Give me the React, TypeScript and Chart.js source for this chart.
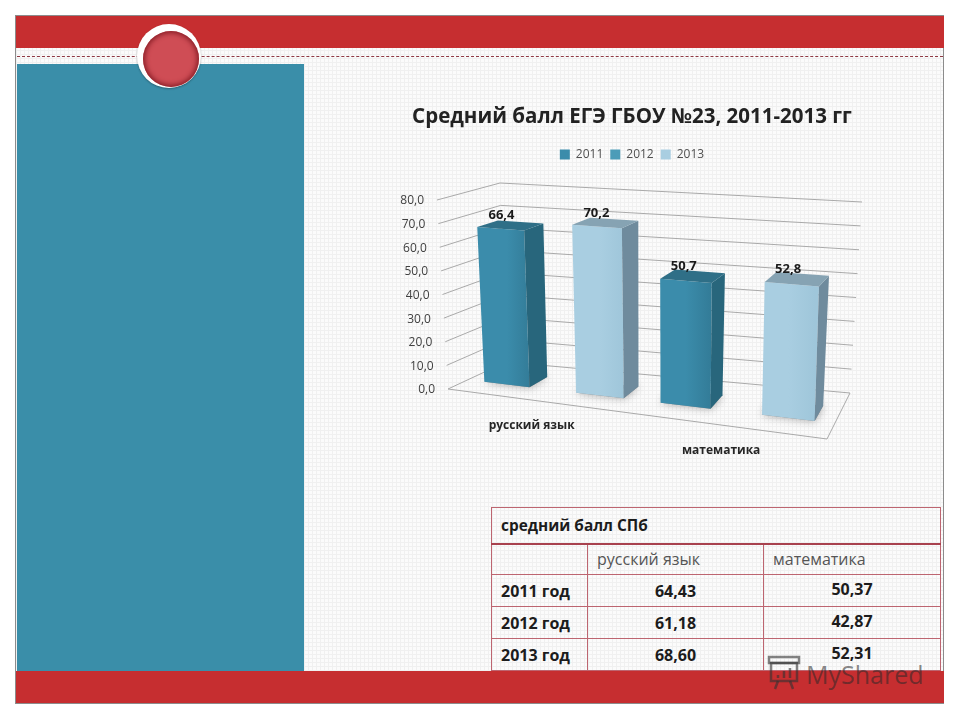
import { useEffect, useRef } from 'react'
import { Chart, registerables } from 'chart.js'

Chart.register(...registerables)

const categories = ['русский язык', 'математика']
const years = ['2011', '2012', '2013']
const values2011 = [66.4, 50.7]
const values2012 = [null, null]
const values2013 = [70.2, 52.8]

const tableHead = ['русский язык', 'математика']
const tableRows = ['2011 год', '2012 год', '2013 год']
const spbRussian = ['64,43', '61,18', '68,60']
const spbMath = ['50,37', '42,87', '52,31']

const CANVAS_X = 304
const CANVAS_Y = 64
const FONT = '"Open Sans", "Noto Sans", sans-serif'

// page position of the 8 corners of the 3D box: [front, back] -> [bottom, top] -> [left, right]
const BOX = [
  [
    [[448, 389], [827, 439]],
    [[437, 200], [832, 227]],
  ],
  [
    [[506, 362], [850, 393]],
    [[500, 183], [862, 202]],
  ],
]
const BAR_FRONT = 0.34
const BAR_BACK = 0.68
// the far left of the box looks squeezed, as in a real perspective view
const FORESHORTEN = 0.1

const frontColors = ['#3b8cab', '#4b9cb8', '#a9cee1']
const sideColors = ['#28667c', '#3a7f98', '#6f8b9d']
const topColors = ['#2f6f87', '#3f8aa5', '#86a3b3']

const lerp = (a: number, b: number, t: number) => a + (b - a) * t

// trilinear lookup inside the box, returned in canvas coordinates
const project = (rawU: number, v: number, w: number) => {
  const u = rawU - FORESHORTEN * rawU * (1 - rawU)
  const axis = (i: number) =>
    lerp(
      lerp(lerp(BOX[0][0][0][i], BOX[0][0][1][i], u), lerp(BOX[0][1][0][i], BOX[0][1][1][i], u), v),
      lerp(lerp(BOX[1][0][0][i], BOX[1][0][1][i], u), lerp(BOX[1][1][0][i], BOX[1][1][1][i], u), v),
      w
    )
  return [axis(0) - CANVAS_X, axis(1) - CANVAS_Y]
}

const face = (ctx: CanvasRenderingContext2D, pts: number[][], fill: string | CanvasGradient) => {
  ctx.beginPath()
  pts.forEach((p, i) => (i ? ctx.lineTo(p[0], p[1]) : ctx.moveTo(p[0], p[1])))
  ctx.closePath()
  ctx.fillStyle = fill
  ctx.fill()
}

const polyline = (ctx: CanvasRenderingContext2D, pts: number[][]) => {
  ctx.beginPath()
  pts.forEach((p, i) => (i ? ctx.lineTo(p[0], p[1]) : ctx.moveTo(p[0], p[1])))
  ctx.stroke()
}

const box3d = {
  id: 'box3d',
  beforeDatasetsDraw(chart: any) {
    const { ctx, chartArea, scales } = chart
    const toU = (px: number) => (px - chartArea.left) / chartArea.width
    const toV = (py: number) => (chartArea.bottom - py) / chartArea.height

    ctx.save()
    // walls and value labels
    ctx.strokeStyle = '#a9a9a9'
    ctx.lineWidth = 1
    ctx.font = `12px ${FONT}`
    ctx.fillStyle = '#404040'
    ctx.textAlign = 'right'
    ctx.textBaseline = 'middle'
    scales.y.ticks.forEach((t: any) => {
      const v = toV(scales.y.getPixelForValue(t.value))
      polyline(ctx, [project(0, v, 0), project(0, v, 1), project(1, v, 1)])
      const p = project(0, v, 0)
      ctx.fillText(t.value.toFixed(1).replace('.', ','), p[0] - 13, p[1] + 1)
    })
    // floor
    polyline(ctx, [project(0, 0, 0), project(1, 0, 0), project(1, 0, 1)])

    // category labels under the front edge
    ctx.font = `bold 12px ${FONT}`
    ctx.fillStyle = '#262626'
    ctx.textAlign = 'center'
    categories.forEach((_, i) => {
      const p = project(toU(scales.x.getPixelForValue(i)), 0, 0)
      ctx.fillText(scales.x.getLabelForValue(i), p[0] - 4, p[1] + 25)
    })

    // bars, left to right
    chart.data.datasets.forEach((ds: any, d: number) => {
      chart.getDatasetMeta(d).data.forEach((bar: any, i: number) => {
        if (ds.data[i] == null) return
        const { x, y, base, width } = bar.getProps(['x', 'y', 'base', 'width'])
        const u0 = toU(x - width / 2)
        const u1 = toU(x + width / 2)
        const v0 = toV(base)
        const v1 = toV(y)
        const fl = project(u0, v0, BAR_FRONT)
        const fr = project(u1, v0, BAR_FRONT)
        const br = project(u1, v0, BAR_BACK)
        const bl = project(u0, v0, BAR_BACK)
        const tfl = project(u0, v1, BAR_FRONT)
        const tfr = project(u1, v1, BAR_FRONT)
        const tbr = project(u1, v1, BAR_BACK)
        const tbl = project(u0, v1, BAR_BACK)

        ctx.save()
        ctx.shadowColor = 'rgba(60,60,60,0.45)'
        ctx.shadowBlur = 8
        face(ctx, [fl, fr, br, bl], '#8a8a8a')
        ctx.restore()

        const g = ctx.createLinearGradient(fl[0], 0, fr[0], 0)
        g.addColorStop(0, ds.backgroundColor)
        g.addColorStop(0.5, ds.backgroundColor)
        g.addColorStop(1, ds.hoverBackgroundColor)
        face(ctx, [fl, fr, tfr, tfl], g)
        face(ctx, [fr, br, tbr, tfr], sideColors[d])
        face(ctx, [tfl, tfr, tbr, tbl], topColors[d])

        const mid = project((u0 + u1) / 2, v1, (BAR_FRONT + BAR_BACK) / 2)
        ctx.font = `bold 13px ${FONT}`
        ctx.fillStyle = '#1a1a1a'
        ctx.textAlign = 'center'
        ctx.textBaseline = 'middle'
        ctx.fillText(String(ds.data[i]).replace('.', ','), mid[0] - 9, mid[1] - 10)
      })
    })
    ctx.restore()
    return false
  },
}

const Table = () => {
  const cell: React.CSSProperties = {
    border: '1px solid #bd6570',
    padding: '0 0 0 9px',
    fontWeight: 700,
    color: '#1c1c1c',
  }
  const num: React.CSSProperties = { ...cell, padding: 0, textAlign: 'center' }
  const head: React.CSSProperties = { ...cell, fontWeight: 400, color: '#555' }
  return (
    <table
      style={{
        position: 'absolute',
        left: 491,
        top: 507,
        width: 449,
        height: 164,
        borderCollapse: 'collapse',
        tableLayout: 'fixed',
        fontFamily: FONT,
        fontSize: 16,
      }}
    >
      <colgroup>
        <col style={{ width: 96 }} />
        <col style={{ width: 176 }} />
        <col style={{ width: 177 }} />
      </colgroup>
      <tbody>
        <tr style={{ height: 36 }}>
          <td colSpan={3} style={{ ...cell, fontSize: 15.4, borderBottom: '2px solid #a8414e' }}>
            средний балл СПб
          </td>
        </tr>
        <tr style={{ height: 31 }}>
          <td style={head}></td>
          {tableHead.map((h) => (
            <td key={h} style={head}>
              {h}
            </td>
          ))}
        </tr>
        {tableRows.map((r, i) => (
          <tr key={r} style={{ height: 32 }}>
            <td style={cell}>{r}</td>
            <td style={num}>{spbRussian[i]}</td>
            <td style={{ ...num, paddingBottom: 4 }}>{spbMath[i]}</td>
          </tr>
        ))}
      </tbody>
    </table>
  )
}

const Slide = () => (
  <>
    <div
      style={{
        position: 'absolute',
        left: 16,
        top: 16,
        width: 927,
        height: 687,
        background: '#fbfbfb',
        backgroundImage:
          'repeating-linear-gradient(0deg, #f0f0f0 0 1px, transparent 1px 4px), repeating-linear-gradient(90deg, #f0f0f0 0 1px, transparent 1px 4px)',
        outline: '1px solid #8c8c8c',
      }}
    />
    <div style={{ position: 'absolute', left: 16, top: 16, width: 928, height: 32, background: '#c62e30' }} />
    <div style={{ position: 'absolute', left: 17, top: 56, width: 926, borderTop: '1px dashed #8f3a44' }} />
    <div style={{ position: 'absolute', left: 17, top: 64, width: 287, height: 607, background: '#3a8ea9' }} />
    <div
      style={{
        position: 'absolute',
        left: 137,
        top: 24,
        width: 64,
        height: 64,
        borderRadius: '50%',
        background: '#fff',
        boxShadow: '0 1px 2px rgba(0,0,0,0.3)',
      }}
    />
    <div
      style={{
        position: 'absolute',
        left: 143,
        top: 31,
        width: 56,
        height: 56,
        borderRadius: '50%',
        background: '#cf4d55',
        boxShadow: 'inset 0 0 5px 2px #8a1f28',
      }}
    />
  </>
)

const Watermark = () => (
  <div
    style={{
      position: 'absolute',
      left: 806,
      top: 659,
      fontFamily: FONT,
      fontSize: 25,
      lineHeight: '30px',
      color: 'rgba(40,40,40,0.55)',
    }}
  >
    MyShared
    <svg
      width="36"
      height="36"
      viewBox="0 0 36 36"
      style={{ position: 'absolute', left: -40, top: -4 }}
      fill="none"
      stroke="rgba(50,50,50,0.6)"
      strokeWidth="2.5"
    >
      <rect x="3" y="2" width="30" height="6" />
      <rect x="5" y="8" width="26" height="18" />
      <path d="M12 20v3M18 16v7M24 13v10M12 26l-3 8M24 26l3 8" />
    </svg>
  </div>
)

const App = () => {
  const canvasRef = useRef<HTMLCanvasElement>(null)

  useEffect(() => {
    document.body.style.margin = '0'
    const chart = new Chart(canvasRef.current!, {
      type: 'bar',
      data: {
        labels: categories,
        datasets: [
          { label: years[0], data: values2011, backgroundColor: frontColors[0], hoverBackgroundColor: '#337c98' },
          { label: years[1], data: values2012, backgroundColor: frontColors[1], hoverBackgroundColor: '#408ca8' },
          { label: years[2], data: values2013, backgroundColor: frontColors[2], hoverBackgroundColor: '#9fc6da' },
        ] as any,
      },
      options: {
        responsive: false,
        animation: false,
        layout: { padding: { left: 60, right: 60, bottom: 20 } },
        datasets: { bar: { barPercentage: 1, categoryPercentage: 0.8 } },
        scales: {
          x: { display: false },
          y: { display: false, min: 0, max: 80, ticks: { stepSize: 10 } },
        },
        plugins: {
          tooltip: { enabled: false },
          title: {
            display: true,
            text: 'Средний балл ЕГЭ ГБОУ №23, 2011-2013 гг',
            color: '#222222',
            font: { family: FONT, size: 20.5, weight: 'bold' },
            padding: { top: 41, bottom: 12 },
          },
          legend: {
            position: 'top',
            labels: {
              boxWidth: 10,
              boxHeight: 10,
              padding: 7,
              color: '#505050',
              font: { family: FONT, size: 12 },
            },
          },
        },
      },
      plugins: [box3d],
    })

    return () => chart.destroy()
  }, [])

  return (
    <div style={{ position: 'absolute', left: 0, top: 0, width: 960, height: 720, overflow: 'hidden', background: '#fff' }}>
      <Slide />
      <canvas
        ref={canvasRef}
        width={656}
        height={436}
        style={{ position: 'absolute', left: CANVAS_X, top: CANVAS_Y }}
      />
      <Table />
      <div style={{ position: 'absolute', left: 16, top: 671, width: 928, height: 32, background: '#c62e30' }} />
      <Watermark />
    </div>
  )
}

export default App
